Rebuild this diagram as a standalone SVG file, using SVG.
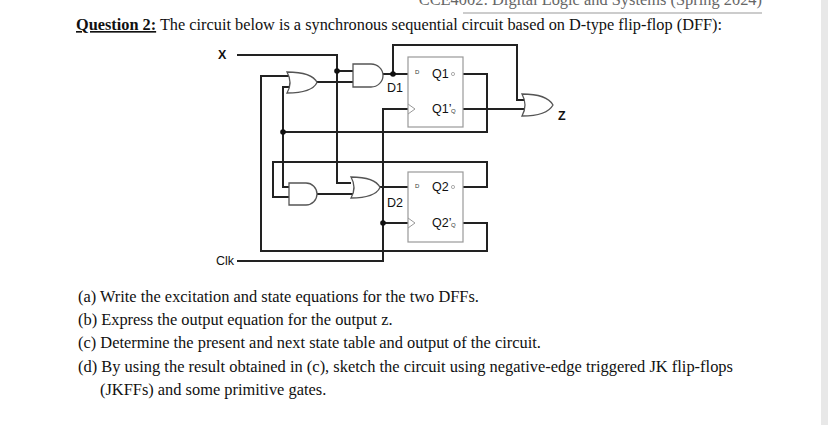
<svg xmlns="http://www.w3.org/2000/svg" width="828" height="425" viewBox="0 0 828 425">
<style>
.w{fill:none;stroke:#222;stroke-width:2}
.g{fill:#fff;stroke:#555;stroke-width:1.3}
.ff{fill:#fff;stroke:#999;stroke-width:1.2}
.l{font-family:"Liberation Sans",Arial,sans-serif;font-size:12.5px;fill:#111}
.s{font-family:"Liberation Sans",Arial,sans-serif;font-size:6px;fill:#333}
.t{font-family:"Liberation Serif","Times New Roman",serif;font-size:16.4px;fill:#111}
.dot{fill:#111}
</style>
<rect width="828" height="425" fill="#fff"/>
<rect x="821" y="0" width="7" height="425" fill="#e8e8e8"/>
<text x="762" y="5" text-anchor="end" class="t" style="fill:#666">CCE4002: Digital Logic and Systems (Spring 2024)</text>
<line x1="463" y1="13" x2="762" y2="13" stroke="#999" stroke-width="1"/>
<text x="76" y="30" class="t" textLength="646" lengthAdjust="spacingAndGlyphs"><tspan font-weight="bold" text-decoration="underline">Question 2:</tspan> The circuit below is a synchronous sequential circuit based on D-type flip-flop (DFF):</text>
<g id="connectors">
<polyline class="w" points="237,55 337,55 337,183 351,183"/>
<line class="w" x1="337" y1="71" x2="355" y2="71"/>
<line class="w" x1="317" y1="82" x2="355" y2="82"/>
<line class="w" x1="383" y1="74" x2="408" y2="74"/>
<polyline class="w" points="393,74 393,45 517,45 517,100 524,100"/>
<polyline class="w" points="463,74 487,74 487,132 283,132"/>
<polyline class="w" points="289,87 283,87 283,187 291,187"/>
<polyline class="w" points="289,76 261,76 261,251 487,251 487,223 463,223"/>
<line class="w" x1="463" y1="109" x2="526" y2="109"/>
<polyline class="w" points="237,261 383,261 383,109 408,109"/>
<line class="w" x1="383" y1="223" x2="408" y2="223"/>
<polyline class="w" points="463,187 487,187 487,162 273,162 273,197 291,197"/>
<line class="w" x1="317" y1="194" x2="354" y2="194"/>
<line class="w" x1="380" y1="187" x2="408" y2="187"/>
<circle class="dot" cx="337" cy="71" r="2.8"/>
<circle class="dot" cx="393" cy="74" r="2.8"/>
<circle class="dot" cx="283" cy="132" r="2.8"/>
<circle class="dot" cx="383" cy="223" r="2.8"/>
</g>
<g id="OR1"><path class="g" d="M287,72 Q312,72 317,82.5 Q312,93 287,93 Q293,82.5 287,72Z"/></g>
<g id="AND1"><path class="g" d="M353,64 H371 A12,11.5 0 0 1 371,87 H353Z"/></g>
<g id="AND2"><path class="g" d="M289,183 H306 A11,11 0 0 1 306,205 H289Z"/></g>
<g id="OR2"><path class="g" d="M351,177 Q375,177 380,187.5 Q375,198 351,198 Q357,187.5 351,177Z"/></g>
<g id="OR3"><path class="g" d="M522,94 Q547,94 553,105 Q547,116 522,116 Q528,105 522,94Z"/></g>
<g id="FF1">
<rect class="ff" x="408" y="57" width="55" height="70"/>
<text x="415" y="74" class="s">D</text>
<polyline points="408,104 415,109 408,114" fill="none" stroke="#999" stroke-width="1"/>
<text x="432" y="78" class="l">Q1</text><circle cx="453" cy="74" r="1.6" fill="none" stroke="#999" stroke-width="0.8"/>
<text x="432" y="113" class="l">Q1’</text><text x="451" y="113" class="s">Q</text>
<text x="387" y="92" class="l">D1</text>
</g>
<g id="FF2">
<rect class="ff" x="408" y="172" width="55" height="70"/>
<text x="415" y="188" class="s">D</text>
<polyline points="408,218 415,223 408,228" fill="none" stroke="#999" stroke-width="1"/>
<text x="432" y="191" class="l">Q2</text><circle cx="453" cy="187" r="1.6" fill="none" stroke="#999" stroke-width="0.8"/>
<text x="432" y="227" class="l">Q2’</text><text x="451" y="227" class="s">Q</text>
<text x="387" y="207" class="l">D2</text>
</g>
<text x="218" y="59" class="l" font-weight="bold">X</text>
<text x="558" y="120" class="l" font-weight="bold">Z</text>
<text x="216" y="265" class="l">Clk</text>
<text x="78" y="302" class="t">(a) Write the excitation and state equations for the two DFFs.</text>
<text x="78" y="325" class="t">(b) Express the output equation for the output z.</text>
<text x="78" y="348" class="t">(c) Determine the present and next state table and output of the circuit.</text>
<text x="78" y="372" class="t" textLength="655" lengthAdjust="spacingAndGlyphs">(d) By using the result obtained in (c), sketch the circuit using negative-edge triggered JK flip-flops</text>
<text x="100" y="395" class="t">(JKFFs) and some primitive gates.</text>
</svg>
